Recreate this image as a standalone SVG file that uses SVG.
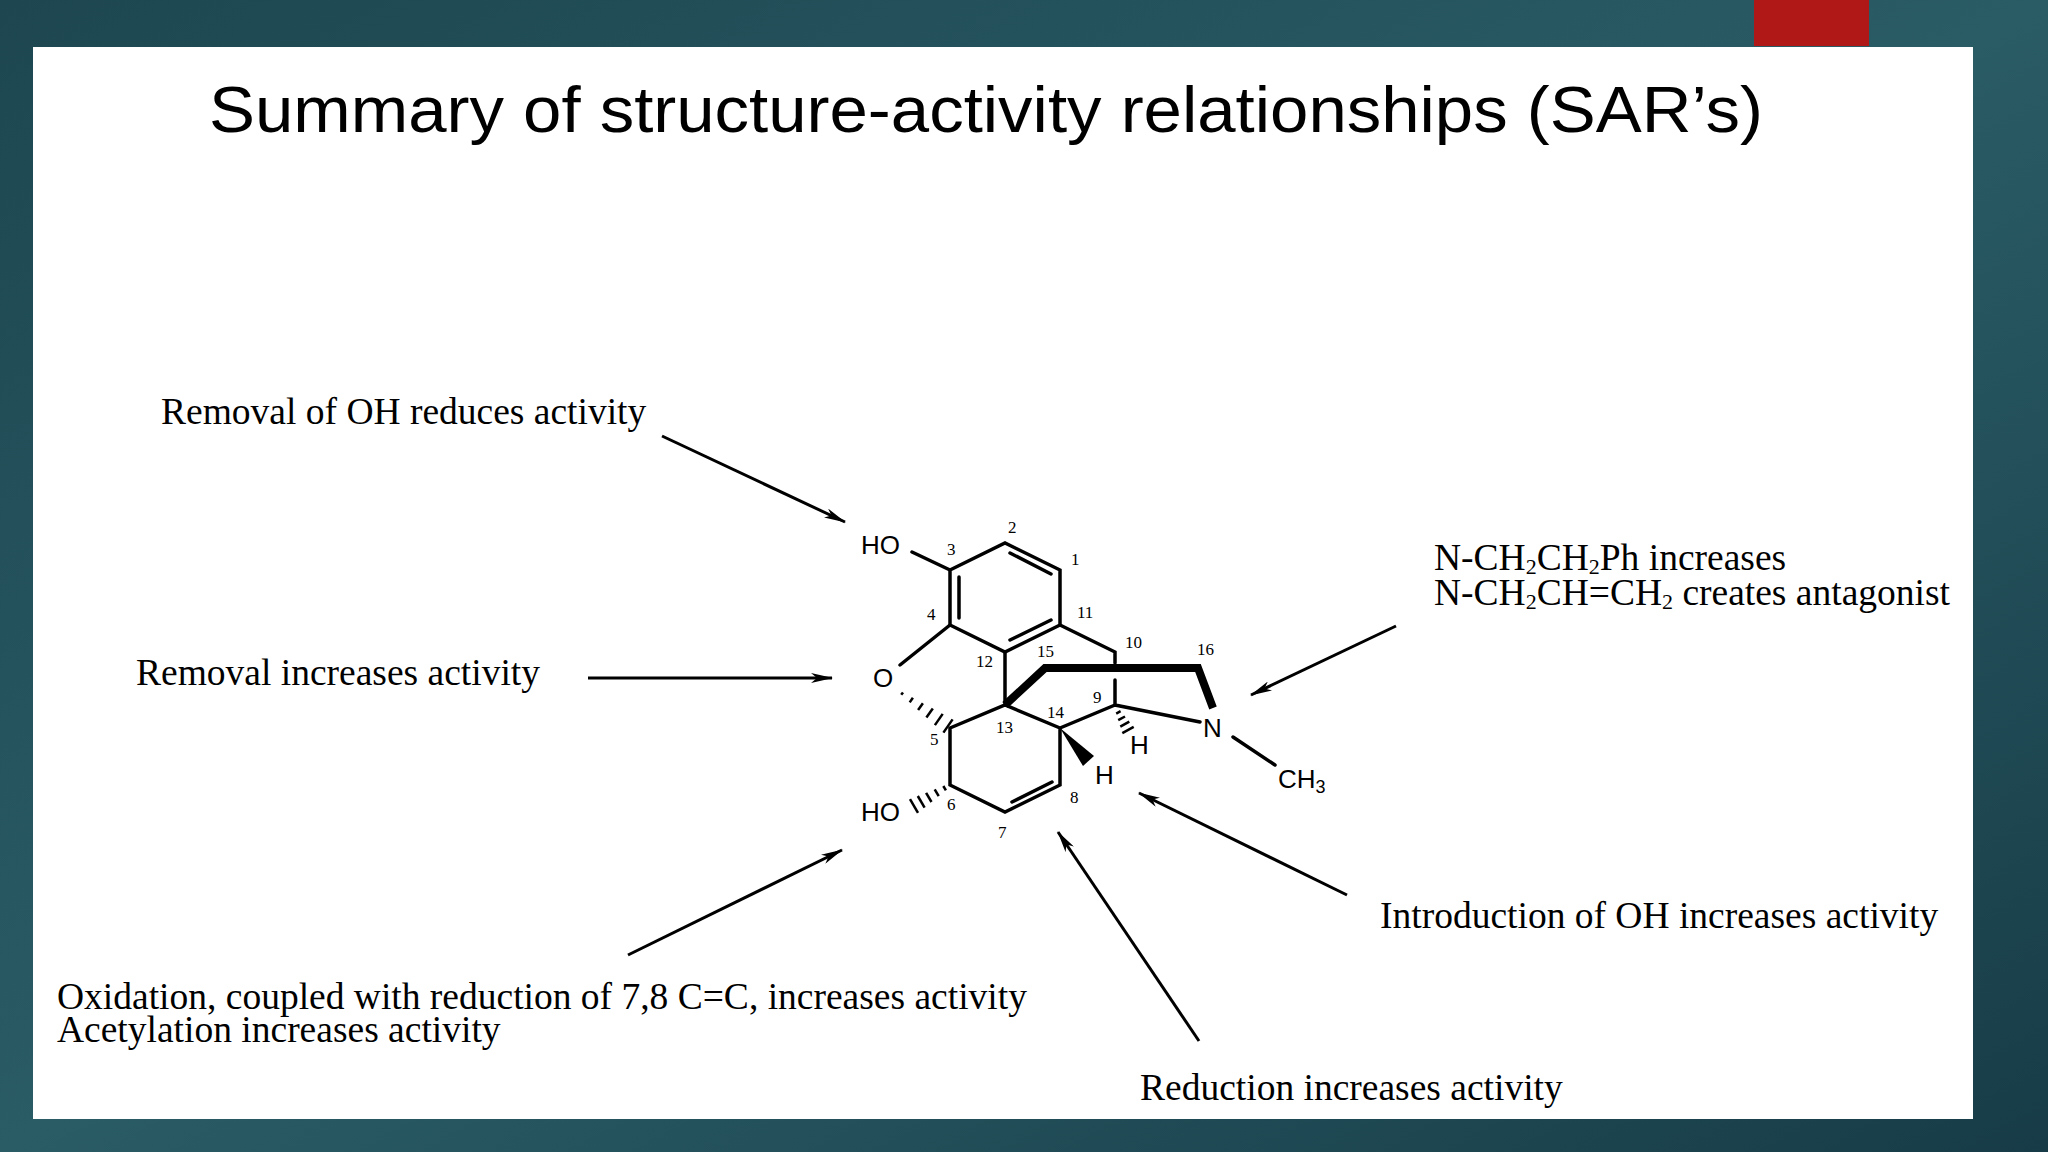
<svg xmlns="http://www.w3.org/2000/svg" width="2048" height="1152" viewBox="0 0 2048 1152">
<defs>
<linearGradient id="bg" x1="0" y1="0" x2="1" y2="1"><stop offset="0" stop-color="#1d4650"/><stop offset="0.5" stop-color="#2a5c66"/><stop offset="1" stop-color="#173c47"/></linearGradient>
<marker id="ah" viewBox="0 0 22 10" refX="21" refY="5" markerWidth="22" markerHeight="10" markerUnits="userSpaceOnUse" orient="auto"><path d="M0,0 L22,5 L0,10 L6,5 Z" fill="#000"/></marker>
</defs>
<style>
.lbl{font-family:"Liberation Serif",serif;font-size:37.5px;fill:#000}
.num{font-family:"Liberation Serif",serif;font-size:17px;fill:#000}
.at{font-family:"Liberation Sans",sans-serif;font-size:26px;fill:#000}
.b{stroke:#000;stroke-width:3.5;fill:none;stroke-linecap:round}
.arr{stroke:#000;stroke-width:3;fill:none}
</style>
<rect width="2048" height="1152" fill="url(#bg)"/>
<rect x="1754" y="0" width="115" height="46" fill="#b01818"/>
<rect x="33" y="47" width="1940" height="1072" fill="#fff"/>
<text x="209" y="132" font-family="Liberation Sans,sans-serif" font-size="64" textLength="1554" lengthAdjust="spacingAndGlyphs">Summary of structure-activity relationships (SAR’s)</text>

<g id="molecule">
<path class="b" d="M950,570 L1005,543 L1060,570 L1060,625 L1005,652 L950,625 Z"/>
<path class="b" d="M1010,553 L1051,574 M959,577 L959,618 M1051,620 L1010,640"/>
<path class="b" d="M912,552 L950,570 M950,625 L900,665 M1005,652 L1005,705 M950,728 L1005,705 L1060,728 M950,728 L950,785 L1005,812 L1060,785 L1060,728 M1012,802 L1052,782 M1060,728 L1115,705 M1060,625 L1115,652 L1115,663 M1115,680 L1115,705 L1200,722 M1233,737 L1275,765"/>
<path d="M1005,705 L1045,668 L1198,668 L1213,708" stroke="#000" stroke-width="8" fill="none" stroke-linejoin="miter"/>
<path d="M1060,728 L1094,756 L1083,766 Z" fill="#000"/>
<g stroke="#000" stroke-width="2.5">
<line x1="901.2" y1="694.8" x2="903.0" y2="692.4"/><line x1="909.7" y1="702.4" x2="912.9" y2="697.8"/><line x1="918.1" y1="710.0" x2="922.9" y2="703.2"/><line x1="926.4" y1="717.5" x2="932.8" y2="708.5"/><line x1="934.9" y1="725.1" x2="942.7" y2="713.9"/><line x1="943.4" y1="732.6" x2="952.6" y2="719.4"/>
<line x1="943.3" y1="786.0" x2="945.9" y2="790.4"/><line x1="934.7" y1="789.4" x2="938.7" y2="796.2"/><line x1="926.1" y1="792.8" x2="931.5" y2="802.0"/><line x1="917.8" y1="796.0" x2="924.6" y2="807.6"/><line x1="910" y1="799.1" x2="918" y2="812.9"/>
<line x1="1116.2" y1="713.6" x2="1120.6" y2="711.2"/><line x1="1118.2" y1="720.2" x2="1125" y2="716.5"/><line x1="1120.3" y1="726.6" x2="1129.3" y2="721.6"/><line x1="1122.3" y1="733.1" x2="1133.7" y2="726.9"/>
</g>
<text class="at" x="861" y="554">HO</text>
<text class="at" x="873" y="687">O</text>
<text class="at" x="861" y="821">HO</text>
<text class="at" x="1203" y="737">N</text>
<text class="at" x="1278" y="788">CH<tspan font-size="18" dy="5">3</tspan></text>
<text class="at" x="1130" y="754">H</text>
<text class="at" x="1095" y="784">H</text>
<text class="num" x="1008" y="533">2</text>
<text class="num" x="1071" y="565">1</text>
<text class="num" x="947" y="555">3</text>
<text class="num" x="927" y="620">4</text>
<text class="num" x="1077" y="618">11</text>
<text class="num" x="1125" y="648">10</text>
<text class="num" x="1197" y="655">16</text>
<text class="num" x="1037" y="657">15</text>
<text class="num" x="976" y="667">12</text>
<text class="num" x="1093" y="703">9</text>
<text class="num" x="1047" y="718">14</text>
<text class="num" x="996" y="733">13</text>
<text class="num" x="930" y="745">5</text>
<text class="num" x="947" y="810">6</text>
<text class="num" x="998" y="838">7</text>
<text class="num" x="1070" y="803">8</text>
</g>

<g id="connectors">
<line class="arr" x1="662" y1="436" x2="845" y2="522" marker-end="url(#ah)"/>
<line class="arr" x1="588" y1="678" x2="832" y2="678" marker-end="url(#ah)"/>
<line class="arr" x1="1396" y1="626" x2="1251" y2="695" marker-end="url(#ah)"/>
<line class="arr" x1="1347" y1="895" x2="1139" y2="793" marker-end="url(#ah)"/>
<line class="arr" x1="1199" y1="1041" x2="1058" y2="832" marker-end="url(#ah)"/>
<line class="arr" x1="628" y1="955" x2="842" y2="850" marker-end="url(#ah)"/>
</g>

<g id="labels">
<text class="lbl" x="1434" y="570">N-CH<tspan font-size="22" dy="4">2</tspan><tspan dy="-4">CH</tspan><tspan font-size="22" dy="4">2</tspan><tspan dy="-4">Ph increases</tspan></text>
<text class="lbl" x="1434" y="605">N-CH<tspan font-size="22" dy="4">2</tspan><tspan dy="-4">CH=CH</tspan><tspan font-size="22" dy="4">2</tspan><tspan dy="-4"> creates antagonist</tspan></text>
<text class="lbl" x="161" y="424">Removal of OH reduces activity</text>
<text class="lbl" x="136" y="685">Removal increases activity</text>
<text class="lbl" x="1380" y="928">Introduction of OH increases activity</text>
<text class="lbl" x="1140" y="1100">Reduction increases activity</text>
<text class="lbl" x="57" y="1009">Oxidation, coupled with reduction of 7,8 C=C, increases activity</text>
<text class="lbl" x="57" y="1042">Acetylation increases activity</text>
</g>
</svg>
